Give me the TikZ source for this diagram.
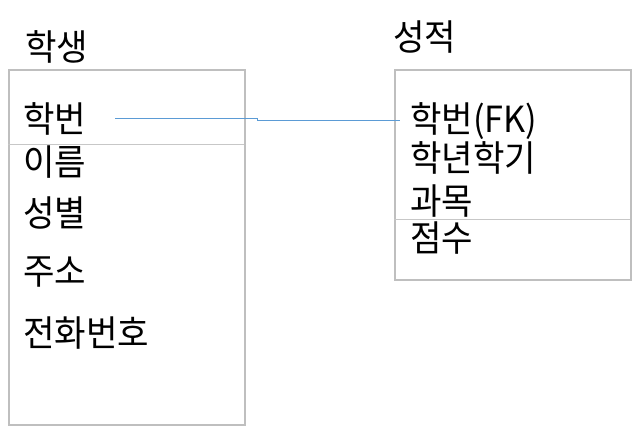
\documentclass[tikz,border=0pt]{standalone}
\usepackage{fontspec}
\setmainfont[FakeStretch=0.95]{Noto Sans CJK KR}
\definecolor{relblue}{RGB}{91,155,213}
\begin{document}
\begin{tikzpicture}[x=1bp,y=-1bp,
  txt/.style={anchor=base west,inner sep=0pt,font=\fontsize{36bp}{40bp}\selectfont},
  tbl/.style={draw=black!25,line width=1.5bp,anchor=north west,inner sep=0pt},
  sep/.style={draw=black!22,line width=1bp},
  rel/.style={draw=relblue,line width=1bp}]
\useasboundingbox (0,0) rectangle (632,426);
% boxes
\node[tbl,minimum width=236bp,minimum height=355bp] (stu) at (8,69) {};
\node[tbl,minimum width=236bp,minimum height=210bp] (grd) at (394,69) {};
\coordinate (s1) at (8,144);
\coordinate (s2) at (244,144);
\coordinate (g1) at (394,219);
\coordinate (g2) at (630,219);
\draw[sep] (s1) -- (s2);
\draw[sep] (g1) -- (g2);
% titles
\node[txt] (t1) at (25,60) {학생};
\node[txt] (t2) at (393,50) {성적};
% left fields
\node[txt] (a1) at (23,132) {학번};
\node[txt] (a2) at (23,175) {이름};
\node[txt] (a3) at (23,226) {성별};
\node[txt] (a4) at (23,284) {주소};
\node[txt] (a5) at (23,346) {전화번호};
% right fields
\node[txt] (b1) at (410,132) {학번(FK)};
\node[txt] (b2) at (410,171) {학년학기};
\node[txt] (b3) at (410,214) {과목};
\node[txt] (b4) at (410,251) {점수};
% relation
\coordinate (la) at (115,118);
\coordinate (jog) at (257,120);
\coordinate (lb) at (400,120);
\draw[rel] (la) -- (la -| jog) -- (jog) -- (lb);
\end{tikzpicture}
\end{document}
